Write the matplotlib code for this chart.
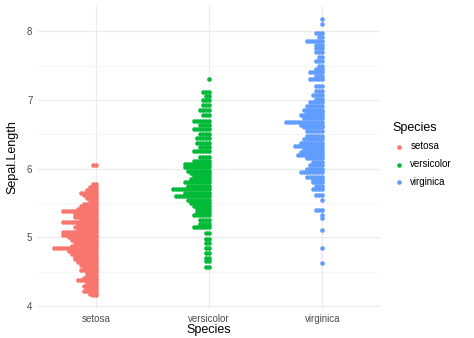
import matplotlib.pyplot as plt
import numpy as np

plt.rcParams['font.family'] = ['Liberation Sans', 'DejaVu Sans']

species = ['setosa', 'versicolor', 'virginica']
colors = ['#F8766D', '#00BA38', '#619CFF']

# rows of stacked dots: y value and how many dots sit in that row
setosa_y = [6.06, 5.77, 5.73, 5.69, 5.65, 5.61, 5.57, 5.53, 5.49, 5.45, 5.41, 5.38,
            5.34, 5.30, 5.26, 5.23, 5.19, 5.15, 5.11, 5.08, 5.04, 5.00, 4.96, 4.92,
            4.88, 4.84, 4.80, 4.76, 4.72, 4.68, 4.64, 4.60, 4.56, 4.53, 4.49, 4.45,
            4.41, 4.38, 4.34, 4.30, 4.26, 4.22, 4.18, 4.16]
setosa_n = [2, 2, 3, 4, 6, 5, 4, 3, 5, 6, 7, 12,
            8, 8, 6, 12, 7, 8, 7, 12, 12, 10, 9, 8,
            9, 15, 10, 9, 8, 8, 7, 6, 5, 6, 4, 4,
            5, 7, 4, 5, 4, 5, 3, 2]

versicolor_y = [7.30, 7.12, 7.06, 7.00, 6.92, 6.85, 6.78, 6.70, 6.63, 6.57, 6.50, 6.45,
                6.38, 6.32, 6.26, 6.17, 6.11, 6.07, 6.03, 5.97, 5.93, 5.90, 5.85, 5.80,
                5.75, 5.70, 5.65, 5.60, 5.55, 5.50, 5.46, 5.42, 5.37, 5.33, 5.25, 5.20,
                5.15, 5.07, 4.98, 4.92, 4.85, 4.78, 4.70, 4.65, 4.57]
versicolor_n = [1, 3, 2, 3, 3, 4, 3, 6, 4, 6, 4, 5,
                5, 4, 6, 4, 6, 9, 9, 8, 7, 6, 7, 9,
                8, 13, 9, 12, 8, 7, 6, 5, 5, 6, 4, 4,
                6, 2, 2, 2, 2, 2, 2, 2, 2]

virginica_y = [8.17, 8.10, 7.97, 7.91, 7.85, 7.80, 7.75, 7.70, 7.63, 7.57, 7.50, 7.45,
               7.40, 7.35, 7.30, 7.20, 7.13, 7.07, 7.02, 6.97, 6.91, 6.86, 6.82, 6.78,
               6.73, 6.68, 6.64, 6.60, 6.55, 6.48, 6.43, 6.38, 6.33, 6.28, 6.24, 6.20,
               6.15, 6.10, 6.05, 6.00, 5.95, 5.88, 5.84, 5.80, 5.75, 5.70, 5.62, 5.55,
               5.40, 5.33, 5.28, 5.11, 4.85, 4.63]
virginica_n = [1, 1, 3, 2, 6, 3, 3, 3, 2, 3, 2, 3,
               5, 3, 5, 3, 3, 4, 3, 5, 6, 7, 6, 8,
               7, 13, 8, 7, 6, 6, 7, 8, 10, 7, 8, 9,
               6, 4, 5, 6, 8, 6, 4, 4, 3, 4, 3, 1,
               3, 1, 1, 1, 1, 1]

rows_y = [setosa_y, versicolor_y, virginica_y]
rows_n = [setosa_n, versicolor_n, virginica_n]

fig = plt.figure(figsize=(4.74, 3.38), dpi=100)
ax = fig.add_axes([0.080, 0.086, 0.722, 0.897])

dx = 0.0265
for k, name in enumerate(species):
    xs, ys = [], []
    for y, n in zip(rows_y[k], rows_n[k]):
        for i in range(n):
            xs.append(k + 1 - i * dx)
            ys.append(y)
    ax.scatter(xs, ys, s=11, color=colors[k], linewidths=0, zorder=3, label=name)

ax.set_xlim(0.49, 3.51)
ax.set_ylim(3.96, 8.37)
ax.set_xticks([1, 2, 3])
ax.set_xticklabels(species)
ax.set_yticks([4, 5, 6, 7, 8])
ax.set_yticks([4.5, 5.5, 6.5, 7.5], minor=True)

for s in ax.spines.values():
    s.set_visible(False)
ax.grid(True, which='major', color='#EBEBEB', linewidth=0.9, zorder=0)
ax.grid(True, which='minor', axis='y', color='#F2F2F2', linewidth=0.5, zorder=0)
ax.tick_params(which='both', length=0, labelsize=7, labelcolor='#4D4D4D', pad=4)

ax.set_xlabel('Species', fontsize=9, labelpad=0)
ax.set_ylabel('Sepal.Length', fontsize=9, labelpad=6)

leg = ax.legend(loc='center left', bbox_to_anchor=(1.02, 0.51), frameon=False,
                title='Species', fontsize=7, title_fontsize=9, markerscale=1.0,
                handletextpad=0.6, labelspacing=0.8, alignment='left',
                borderaxespad=0.2, handlelength=1.2)

plt.savefig('out.png', dpi=100)
plt.close()
